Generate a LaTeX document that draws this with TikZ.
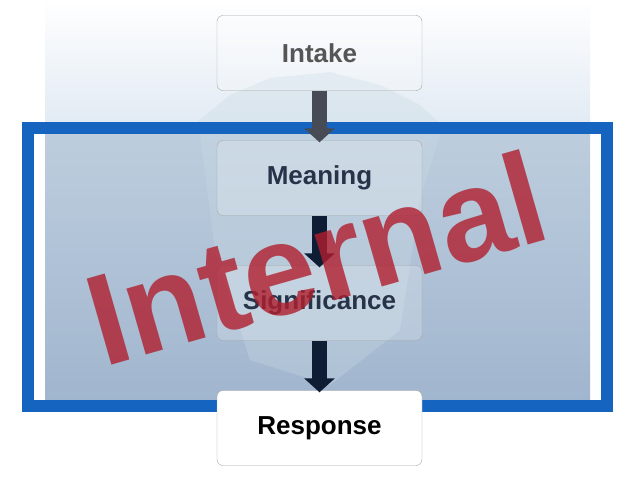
\documentclass[tikz,border=0pt]{standalone}
\usepackage{fontspec}
\setmainfont{Liberation Sans}
\usetikzlibrary{arrows.meta}
\definecolor{frameblue}{HTML}{1464C0}
\definecolor{navy}{HTML}{0E1C34}
\definecolor{redtxt}{HTML}{B01E2E}
\definecolor{skyb}{RGB}{225,234,243}
\definecolor{berg}{RGB}{215,228,236}
\definecolor{watert}{RGB}{190,206,222}
\definecolor{waterb}{RGB}{160,181,206}
\definecolor{wline}{RGB}{40,110,140}
\definecolor{bergu}{RGB}{200,218,228}
\definecolor{txtgray}{RGB}{85,85,85}
\definecolor{arrgray}{RGB}{70,75,85}
\tikzset{
 stagebox/.style={draw=gray!70,rounded corners=6pt,minimum width=205pt,minimum height=75pt,font=\bfseries\fontsize{26}{30}\selectfont,fill=white,fill opacity=0.2,text opacity=1},
 flow/.style={line width=15pt,draw=navy,-{Triangle[width=30pt,length=14pt]},shorten >=-2pt}
}
\begin{document}
\begin{tikzpicture}[x=1pt,y=-1pt]
\useasboundingbox (0,0) rectangle (638,479);
\fill[white] (0,0) rectangle (638,479);
\shade[top color=white,bottom color=skyb] (45,0) rectangle (590,125);
\fill[berg,opacity=0.7] (190,128) -- (230,95) -- (270,78) -- (330,72) -- (380,85) -- (420,105) -- (445,128) -- cycle;
\shade[top color=watert,bottom color=waterb] (45,125) rectangle (590,405);
\fill[wline] (45,122) rectangle (590,134);
\fill[bergu,opacity=0.35] (200,134) -- (440,134) -- (420,200) -- (400,330) -- (330,385) -- (250,360) -- (215,250) -- cycle;
\draw[frameblue,line width=12pt] (28,128) rectangle (607,406);
\node[stagebox,text=txtgray] (intake) at (319.5,53) {Intake};
\node[stagebox,text=navy!90] (meaning) at (319.5,178) {Meaning};
\node[stagebox,text=navy!90] (signif) at (319.5,303) {Significance};
\node[stagebox,text=black,fill opacity=1] (resp) at (319.5,428) {Response};
\draw[flow,draw=arrgray] (intake.south) -- (meaning.north);
\draw[flow] (meaning.south) -- (signif.north);
\draw[flow] (signif.south) -- (resp.north);
\node[text=redtxt,text opacity=0.8,rotate=16,font=\bfseries\fontsize{130}{135}\selectfont] (internal) at (316,258) {Internal};
\end{tikzpicture}
\end{document}
